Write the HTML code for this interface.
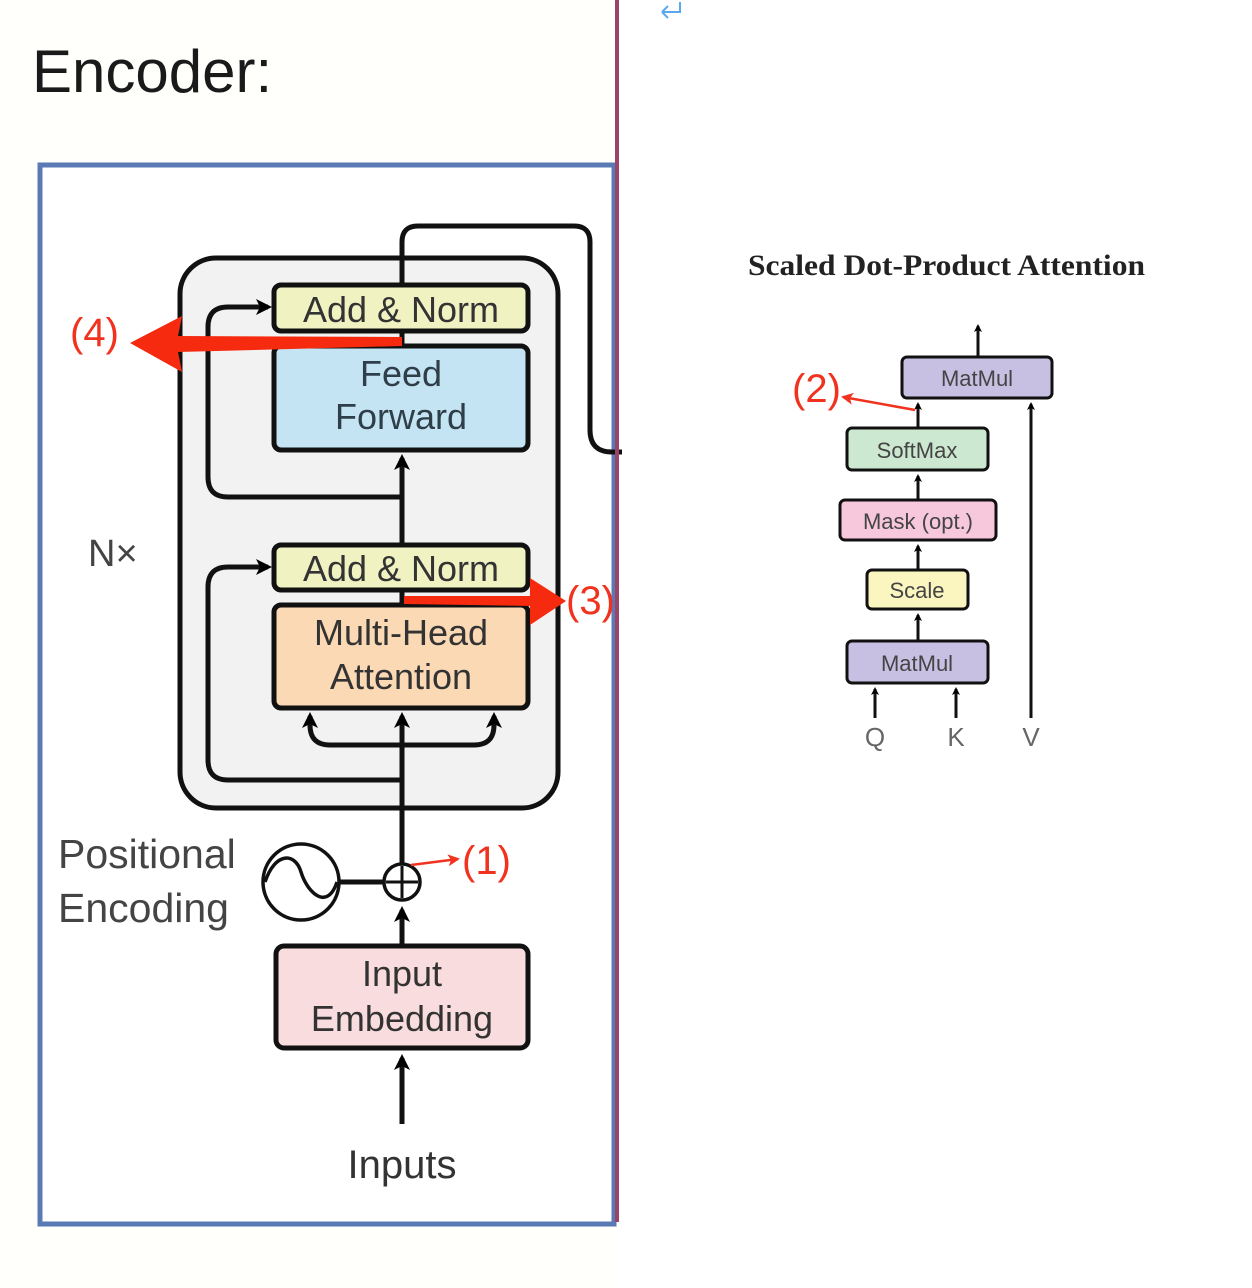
<!DOCTYPE html>
<html><head><meta charset="utf-8"><style>
html,body{margin:0;padding:0;background:#fff;}
svg{display:block;}
text{font-family:"Liberation Sans",sans-serif;}
</style></head><body>
<svg width="1252" height="1288" viewBox="0 0 1252 1288" xmlns="http://www.w3.org/2000/svg">
<defs>
<marker id="ah" markerWidth="8" markerHeight="8" refX="6" refY="4" orient="auto" markerUnits="userSpaceOnUse"><path d="M0,0 L8,4 L0,8 L2,4 Z" fill="#000"/></marker>
<marker id="ahb" markerWidth="16" markerHeight="16" refX="12" refY="8" orient="auto" markerUnits="userSpaceOnUse"><path d="M0,0 L16,8 L0,16 L4,8 Z" fill="#000"/></marker>
<marker id="ahr" markerWidth="12" markerHeight="12" refX="10" refY="6" orient="auto" markerUnits="userSpaceOnUse"><path d="M0,0 L12,6 L0,12 L3,6 Z" fill="#f0321e"/></marker>
</defs>
<rect x="0" y="0" width="618" height="1288" fill="#fffffc"/>
<text x="32" y="92" font-size="60" fill="#1a1a1a">Encoder:</text>
<rect x="40" y="165" width="574" height="1059" fill="#fff" stroke="#5a7ab5" stroke-width="5"/>
<rect x="180" y="258" width="378" height="550" rx="36" fill="#f2f2f2" stroke="#111" stroke-width="5"/>
<path d="M402,285 V242 Q402,226 418,226 H574 Q590,226 590,242 V430 Q590,452 612,452 H622" fill="none" stroke="#111" stroke-width="5"/>
<line x1="402" y1="863" x2="402" y2="716" stroke="#111" stroke-width="5" marker-end="url(#ahb)"/>
<line x1="402" y1="590" x2="402" y2="605" stroke="#111" stroke-width="5"/>
<line x1="402" y1="545" x2="402" y2="458" stroke="#111" stroke-width="5" marker-end="url(#ahb)"/>
<line x1="402" y1="331" x2="402" y2="346" stroke="#111" stroke-width="5"/>
<path d="M402,497 H228 Q208,497 208,477 V327 Q208,307 228,307 H268" fill="none" stroke="#111" stroke-width="5" marker-end="url(#ahb)"/>
<path d="M402,780 H228 Q208,780 208,760 V587 Q208,567 228,567 H268" fill="none" stroke="#111" stroke-width="5" marker-end="url(#ahb)"/>
<path d="M402,745 H330 Q310,745 310,725 V716" fill="none" stroke="#111" stroke-width="5" marker-end="url(#ahb)"/>
<path d="M402,745 H474 Q494,745 494,725 V716" fill="none" stroke="#111" stroke-width="5" marker-end="url(#ahb)"/>
<rect x="274" y="285" width="254" height="46" rx="7" fill="#f1f2c2" stroke="#111" stroke-width="5"/>
<text x="401" y="322" font-size="36" text-anchor="middle" fill="#333">Add &amp; Norm</text>
<rect x="274" y="346" width="254" height="104" rx="7" fill="#c4e3f3" stroke="#111" stroke-width="5"/>
<text x="401" y="386" font-size="36" text-anchor="middle" fill="#2f3f4a">Feed</text>
<text x="401" y="429" font-size="36" text-anchor="middle" fill="#2f3f4a">Forward</text>
<rect x="274" y="545" width="254" height="45" rx="7" fill="#f1f2c2" stroke="#111" stroke-width="5"/>
<text x="401" y="581" font-size="36" text-anchor="middle" fill="#333">Add &amp; Norm</text>
<rect x="274" y="605" width="254" height="103" rx="7" fill="#fbd9b4" stroke="#111" stroke-width="5"/>
<text x="401" y="645" font-size="36" text-anchor="middle" fill="#333">Multi-Head</text>
<text x="401" y="689" font-size="36" text-anchor="middle" fill="#333">Attention</text>
<text x="88" y="566" font-size="38" fill="#444">N×</text>
<text x="58" y="868" font-size="41" fill="#444">Positional</text>
<text x="58" y="922" font-size="41" fill="#444">Encoding</text>
<circle cx="301" cy="882" r="38" fill="#fff" stroke="#111" stroke-width="3.5"/>
<path d="M265,882 C275,852 295,852 301,872 C307,892 327,912 337,882" fill="none" stroke="#111" stroke-width="3.5"/>
<line x1="339" y1="882" x2="383" y2="882" stroke="#111" stroke-width="5"/>
<circle cx="402" cy="882" r="18" fill="#fff" stroke="#111" stroke-width="3.5"/>
<line x1="386" y1="882" x2="418" y2="882" stroke="#111" stroke-width="3"/>
<line x1="402" y1="866" x2="402" y2="898" stroke="#111" stroke-width="3"/>
<line x1="402" y1="946" x2="402" y2="910" stroke="#111" stroke-width="5" marker-end="url(#ahb)"/>
<rect x="276" y="946" width="252" height="102" rx="8" fill="#f9dcdd" stroke="#111" stroke-width="5"/>
<text x="402" y="986" font-size="36" text-anchor="middle" fill="#333">Input</text>
<text x="402" y="1031" font-size="36" text-anchor="middle" fill="#333">Embedding</text>
<line x1="402" y1="1124" x2="402" y2="1058" stroke="#111" stroke-width="5" marker-end="url(#ahb)"/>
<text x="402" y="1178" font-size="40" text-anchor="middle" fill="#333">Inputs</text>
<line x1="617" y1="0" x2="617" y2="1222" stroke="#9a4568" stroke-width="4"/>
<path d="M662,12 H680 V2 M662,12 L668,6 M662,12 L668,18" fill="none" stroke="#5aa8f0" stroke-width="2"/>
<polygon points="402,337 402,346 178,352 182,372 130,343 182,316 178,336" fill="#f52a0e"/>
<text x="70" y="346" font-size="40" fill="#f0321e">(4)</text>
<polygon points="404,596 530,596 530,578 566,601 530,625 530,606 404,604" fill="#f52a0e"/>
<text x="566" y="614" font-size="40" fill="#f0321e">(3)</text>
<line x1="411" y1="865" x2="458" y2="859" stroke="#f0321e" stroke-width="2.5" marker-end="url(#ahr)"/>
<text x="462" y="874" font-size="40" fill="#f0321e">(1)</text>
<text x="748" y="275" font-size="30" font-weight="bold" textLength="397" lengthAdjust="spacingAndGlyphs" fill="#222" style="font-family:'Liberation Serif',serif">Scaled Dot-Product Attention</text>
<line x1="978" y1="357" x2="978" y2="326" stroke="#111" stroke-width="3" marker-end="url(#ah)"/>
<rect x="902" y="357" width="150" height="41" rx="5" fill="#c8c0e3" stroke="#111" stroke-width="3"/>
<text x="977" y="386" font-size="22" text-anchor="middle" fill="#444">MatMul</text>
<line x1="918" y1="428" x2="918" y2="404" stroke="#111" stroke-width="3" marker-end="url(#ah)"/>
<rect x="847" y="428" width="141" height="42" rx="5" fill="#cce8d0" stroke="#111" stroke-width="3"/>
<text x="917" y="458" font-size="22" text-anchor="middle" fill="#444">SoftMax</text>
<line x1="918" y1="500" x2="918" y2="476" stroke="#111" stroke-width="3" marker-end="url(#ah)"/>
<rect x="840" y="500" width="156" height="40" rx="5" fill="#f7c8dc" stroke="#111" stroke-width="3"/>
<text x="918" y="529" font-size="22" text-anchor="middle" fill="#444">Mask (opt.)</text>
<line x1="918" y1="570" x2="918" y2="546" stroke="#111" stroke-width="3" marker-end="url(#ah)"/>
<rect x="867" y="570" width="101" height="39" rx="5" fill="#fbf6c0" stroke="#111" stroke-width="3"/>
<text x="917" y="598" font-size="22" text-anchor="middle" fill="#444">Scale</text>
<line x1="918" y1="641" x2="918" y2="615" stroke="#111" stroke-width="3" marker-end="url(#ah)"/>
<rect x="847" y="641" width="141" height="42" rx="5" fill="#c8c0e3" stroke="#111" stroke-width="3"/>
<text x="917" y="671" font-size="22" text-anchor="middle" fill="#444">MatMul</text>
<line x1="875" y1="718" x2="875" y2="689" stroke="#111" stroke-width="3" marker-end="url(#ah)"/>
<line x1="956" y1="718" x2="956" y2="689" stroke="#111" stroke-width="3" marker-end="url(#ah)"/>
<line x1="1031" y1="718" x2="1031" y2="404" stroke="#111" stroke-width="3" marker-end="url(#ah)"/>
<text x="875" y="746" font-size="26" text-anchor="middle" fill="#666">Q</text>
<text x="956" y="746" font-size="26" text-anchor="middle" fill="#666">K</text>
<text x="1031" y="746" font-size="26" text-anchor="middle" fill="#666">V</text>
<line x1="915" y1="410" x2="843" y2="397" stroke="#f0321e" stroke-width="2.5" marker-end="url(#ahr)"/>
<text x="792" y="402" font-size="40" fill="#f0321e">(2)</text>
</svg>
</body></html>
